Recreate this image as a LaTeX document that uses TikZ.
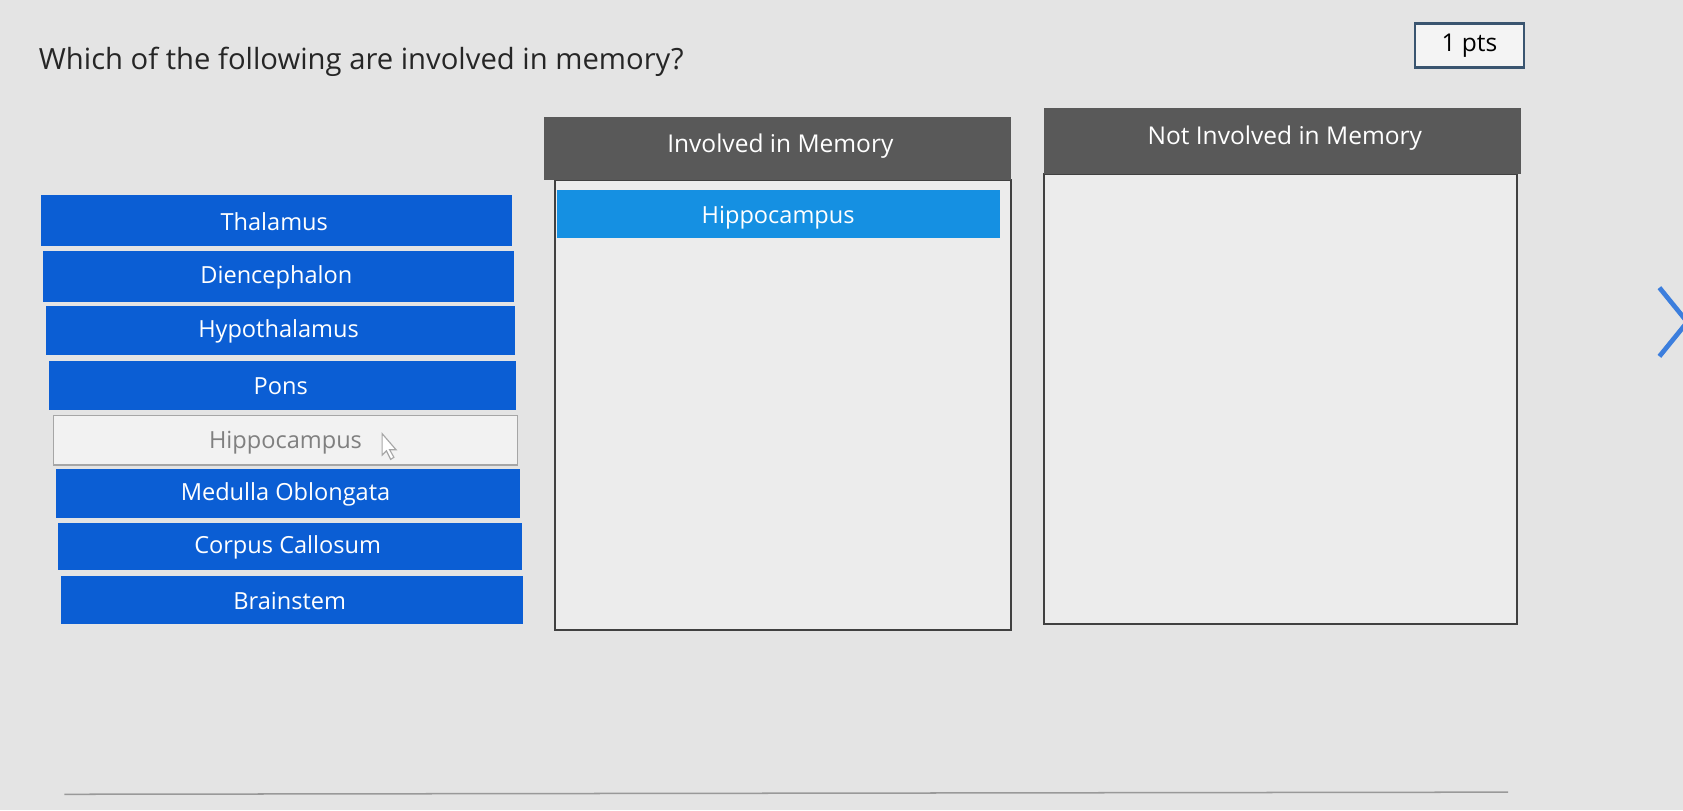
\documentclass[tikz,border=0pt]{standalone}
\usepackage{fontspec}
\setmainfont{Open Sans}
\definecolor{bg}{HTML}{E4E4E4}
\definecolor{itm}{HTML}{0B5ED4}
\definecolor{itl}{HTML}{1590E2}
\definecolor{hdr}{HTML}{595959}
\definecolor{ptsb}{HTML}{3A5570}
\tikzset{
 item/.style={fill=itm,text=white,font=\fontsize{12}{14}\selectfont},
 lbl/.style={font=\fontsize{12.5}{14}\selectfont},
 hdrbox/.style={fill=hdr},
}
\begin{document}
\begin{tikzpicture}[x=0.02cm,y=-0.02cm]
\fill[bg] (0,0) rectangle (1568,755);
\useasboundingbox (0,0) rectangle (1568,755);
\node[anchor=west,font=\fontsize{15.5}{18}\selectfont,text=black!85] (q) at (30,58) {Which of the following are involved in memory?};
\draw[ptsb,line width=1.2pt,fill=white!60!bg] (1318,22) rectangle (1420,63);
\node[font=\fontsize{13}{15}\selectfont] (pts) at (1369,43) {1 pts};
% left list
\foreach \xa/\xb/\ya/\yb/\t/\n in {38/477/182/229/Thalamus/a,40/479/234/281/Diencephalon/b,43/480/285/331/Hypothalamus/c,46/481/336/382/Pons/d,52/484/437/483/Medulla Oblongata/f,54/486/487/531/Corpus Callosum/g,57/487/537/581/Brainstem/h}{
 \fill[itm] (\xa,\ya) rectangle (\xb,\yb);
 \node[lbl,text=white] (\n) at ({(\xa+\xb)/2-2},{(\ya+\yb)/2+1}) {\t};
}
\draw[gray!70,fill=white!50!bg,line width=0.8pt] (50,387) rectangle (482,433);
\node[lbl,text=gray] (e) at (266,412) {Hippocampus};
\draw[gray!70,fill=white,line width=0.6pt] (356,404) -- (356,424) -- (360,420) -- (364,428) -- (367,426) -- (363,419) -- (369,419) -- cycle;
% involved column
\draw[black!75,line width=1pt,fill=white!30!bg] (517,168) rectangle (942,587);
\fill[hdr] (507,109) rectangle (942,168);
\node[lbl,text=white,font=\fontsize{13}{15}\selectfont] (inv) at (727,136) {Involved in Memory};
\fill[itl] (519,177) rectangle (932,222);
\node[lbl,text=white] (hip) at (725,203) {Hippocampus};
% not involved
\draw[black!75,line width=1pt,fill=white!30!bg] (973,162) rectangle (1413,581);
\fill[hdr] (973,101) rectangle (1417,162);
\node[lbl,text=white,font=\fontsize{13}{15}\selectfont] (ninv) at (1197,129) {Not Involved in Memory};
% chevron
\draw[itm!80,line width=2.5pt] (1546,268) -- (1572,300) -- (1546,332);
% bottom line
\draw[gray!80,line width=0.8pt] (60,740) -- (1405,738);
\end{tikzpicture}
\end{document}
